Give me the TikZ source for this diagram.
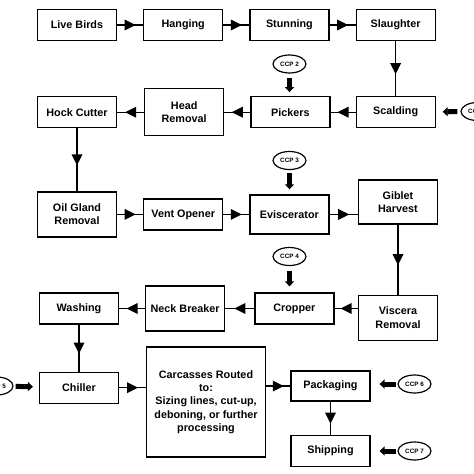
\documentclass[tikz,border=0pt]{standalone}
\usepackage{fontspec}
\setmainfont{Liberation Sans}
\usepackage{tikz}
\usetikzlibrary{shapes.geometric, arrows.meta}
\usetikzlibrary{decorations.markings}
\usetikzlibrary{positioning}
\tikzstyle{box} = [rectangle, minimum width=79pt, minimum height=31pt, inner sep=2pt, align=center, draw=black, line width=1.2pt, font=\fontsize{10.8}{13.3}\selectfont\bfseries]
\tikzstyle{flow} = [line width=1.2pt, postaction={decorate}, decoration={markings, mark=at position 0.5 with {\fill (-5.5pt,5.5pt) -- (5.5pt,0pt) -- (-5.5pt,-5.5pt) -- cycle;}}]
\tikzstyle{ccp} = [ellipse, minimum width=33pt, minimum height=18pt, inner sep=0pt, draw=black, line width=1.2pt, font=\fontsize{6.3}{7}\selectfont\bfseries]
\tikzstyle{ccpArrow} = [line width=5pt, -{Triangle[length=5pt,width=9pt]}]

\begin{document}
\begin{tikzpicture}[x=1pt, y=-1pt]
                        \useasboundingbox (0,0) rectangle (474,474);
                        \clip (0,0) rectangle (474,474);
                        % first row
                        \node (live) [box] at (77,25) {Live Birds};
                        \node (hanging) [box, right=26pt of live] {Hanging};
                        \node (stunning) [box, right=26pt of hanging] {Stunning};
                        \node (slaughter) [box, right=26pt of stunning] {Slaughter};
                        % second row
                        \node (scalding) [box, below=55pt of slaughter] {Scalding};
                        \node (pickers) [box, left=25pt of scalding] {Pickers};
                        \node (head) [box, left=26pt of pickers, minimum height=47pt] {Head\\Removal};
                        \node (hock) [box, left=27pt of head] {Hock Cutter};
                        % third row
                        \node (oil) [box, below=63pt of hock, minimum height=45pt] {Oil Gland\\Removal};
                        \node (vent) [box, right=26pt of oil] {Vent Opener};
                        \node (evisc) [box, right=26pt of vent, minimum height=39pt] {Eviscerator};
                        \node (giblet) [box, minimum height=44pt] at (398,202) {Giblet\\Harvest};
                        % fourth row
                        \node (viscera) [box, below=70pt of giblet, minimum height=45pt] {Viscera\\Removal};
                        \node (washing) [box] at (79,308.5) {Washing};
                        \node (neck) [box, right=26pt of washing, minimum height=45pt] {Neck Breaker};
                        \node (cropper) [box, right=29pt of neck] {Cropper};
                        % last rows
                        \node (chiller) [box, below=47pt of washing] {Chiller};
                        \node (carc) [box, minimum width=119pt, minimum height=110pt] at (206,402) {Carcasses Routed\\to:\\Sizing lines, cut-up,\\deboning, or further\\processing};
                        \node (packaging) [box, minimum height=30pt] at (330.5,386) {Packaging};
                        \node (shipping) [box, below=33pt of packaging] {Shipping};
                        % control points
                        \node (ccp1) [ccp] at (477.5,111.5) {CCP 1};
                        \node (ccp2) [ccp] at (289.5,64) {CCP 2};
                        \node (ccp3) [ccp] at (289.5,160.5) {CCP 3};
                        \node (ccp4) [ccp] at (289.5,256.5) {CCP 4};
                        \node (ccp5) [ccp] at (-3.5,386) {CCP 5};
                        \node (ccp6) [ccp] at (414.5,384) {CCP 6};
                        \node (ccp7) [ccp] at (414.5,451) {CCP 7};
                        % process flow
                        \draw (live) [flow] -- (hanging);
                        \draw (hanging) [flow] -- (stunning);
                        \draw (stunning) [flow] -- (slaughter);
                        \draw (slaughter) [flow] -- (scalding);
                        \draw (scalding) [flow] -- (pickers);
                        \draw (pickers) [flow] -- (head);
                        \draw (head) [flow] -- (hock);
                        \draw (hock) [flow] -- (oil);
                        \draw (oil) [flow] -- (vent);
                        \draw (vent) [flow] -- (evisc);
                        \draw (evisc) [flow] -- (evisc -| giblet.west);
                        \draw (giblet) [flow] -- (viscera);
                        \draw (viscera.west |- cropper) [flow] -- (cropper);
                        \draw (cropper) [flow] -- (neck);
                        \draw (neck) [flow] -- (washing);
                        \draw (washing) [flow] -- (chiller);
                        \draw (chiller) [flow] -- (chiller -| carc.west);
                        \draw (carc.east |- packaging) [flow] -- (packaging);
                        \draw (packaging) [flow] -- (shipping);
                        % ccp arrows
                        \draw (ccp1) [ccpArrow, shorten <=3pt, shorten >=7pt] -- (scalding);
                        \draw (ccp2) [ccpArrow, shorten <=4pt, shorten >=4pt] -- (ccp2 |- pickers.north);
                        \draw (ccp3) [ccpArrow, shorten <=3pt, shorten >=5pt] -- (ccp3 |- evisc.north);
                        \draw (ccp4) [ccpArrow, shorten <=5pt, shorten >=6pt] -- (ccp4 |- cropper.north);
                        \draw (ccp5) [ccpArrow, shorten <=2pt, shorten >=6pt] -- (chiller);
                        \draw (ccp6) [ccpArrow, shorten <=1pt, shorten >=9pt] -- (ccp6 -| packaging.east);
                        \draw (ccp7) [ccpArrow, shorten <=1pt, shorten >=9pt] -- (ccp7 -| shipping.east);
                    \end{tikzpicture}
\end{document}
